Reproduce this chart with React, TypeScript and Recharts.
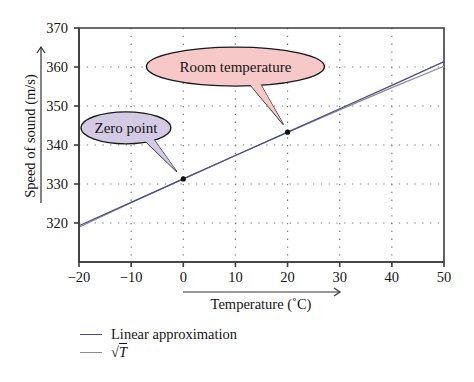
import {
  CartesianGrid,
  LineChart,
  Line,
  ReferenceArea,
  ReferenceDot,
  XAxis,
  YAxis,
} from "recharts";

const temps = [-20, -10, 0, 10, 20, 30, 40, 50];
const linearApprox = [319.3, 325.3, 331.3, 337.3, 343.3, 349.3, 355.3, 361.4];
const sqrtModel = [318.9, 325.2, 331.3, 337.3, 343.2, 349.0, 354.7, 360.2];

const xTicks = [-20, -10, 0, 10, 20, 30, 40, 50];
const yTicks = [320, 330, 340, 350, 360, 370];

const markedTemps = [0, 20];
const markedSpeeds = [331.3, 343.3];

const calloutLabels = ["Zero point", "Room temperature"];
const calloutTemps = [-11, 10];
const calloutSpeeds = [344.4, 360.1];

const SERIF = "'Liberation Serif', 'Times New Roman', serif";
const LINEAR_COLOR = "#4a4a8e";
const SQRT_COLOR = "#8e8e8e";
const AXIS_COLOR = "#3c3c3c";
const TEXT_COLOR = "#151515";

const data = temps.map((t, i) => ({
  t,
  linear: linearApprox[i],
  sqrt: sqrtModel[i],
}));

// callout look: ellipse radii, fill and tail (base1, base2, tip) offsets from centre
const calloutStyles = [
  { rx: 45, ry: 16, fill: "#d2cbe3", tail: [17, 11, 26, 9, 51, 44] },
  { rx: 89, ry: 19.5, fill: "#f6c9c8", tail: [12, 15, 23, 14, 48, 58] },
];

function Callout({ cx, cy, idx }: { cx?: number; cy?: number; idx: number }) {
  if (cx == null || cy == null) return null;
  const s = calloutStyles[idx];
  const [b1x, b1y, b2x, b2y, tx, ty] = s.tail;
  const pts = `${cx + b1x},${cy + b1y} ${cx + tx},${cy + ty} ${cx + b2x},${cy + b2y}`;
  return (
    <g>
      <polygon points={pts} fill={s.fill} stroke="#1a1a1a" strokeWidth={1.1} />
      <ellipse cx={cx} cy={cy} rx={s.rx} ry={s.ry} fill={s.fill} stroke="#1a1a1a" strokeWidth={1.4} />
      <polygon points={pts} fill={s.fill} stroke="none" />
      <text
        x={cx}
        y={cy + 5}
        textAnchor="middle"
        fontFamily={SERIF}
        fontSize={15}
        fill={TEXT_COLOR}
      >
        {calloutLabels[idx]}
      </text>
    </g>
  );
}

const fmt = (v: number) => (v < 0 ? `\u2212${Math.abs(v)}` : `${v}`);

function YLabel() {
  const ax = 41;
  return (
    <g>
      <line x1={ax} y1={203} x2={ax} y2={47} stroke="#333" strokeWidth={1.2} />
      <path d={`M${ax - 4},${53} L${ax},${47} L${ax + 4},${53}`} fill="none" stroke="#333" strokeWidth={1.2} />
      <text
        x={30}
        y={136}
        transform={`rotate(-90 30 136)`}
        textAnchor="middle"
        dominantBaseline="central"
        fontFamily={SERIF}
        fontSize={14.5}
        fill={TEXT_COLOR}
      >
        Speed of sound (m/s)
      </text>
    </g>
  );
}

function XLabel() {
  const ay = 292;
  return (
    <g>
      <line x1={183} y1={ay} x2={340} y2={ay} stroke="#333" strokeWidth={1.2} />
      <path d={`M${334},${ay - 4} L${340},${ay} L${334},${ay + 4}`} fill="none" stroke="#333" strokeWidth={1.2} />
      <text x={261} y={309} textAnchor="middle" fontFamily={SERIF} fontSize={14.5} fill={TEXT_COLOR}>
        Temperature (˚C)
      </text>
    </g>
  );
}

const legendItems = [
  { key: "linear", color: LINEAR_COLOR },
  { key: "sqrt", color: SQRT_COLOR },
];

export default function App() {
  return (
    <div
      style={{
        position: "absolute",
        left: 0,
        top: 0,
        width: 474,
        height: 382,
        background: "#fff",
        fontFamily: SERIF,
      }}
    >
      <LineChart
        width={474}
        height={382}
        data={data}
        margin={{ top: 28, right: 30, left: 19, bottom: 90 }}
      >
        <CartesianGrid
          stroke="#777"
          strokeDasharray="1.3 6.5"
          strokeWidth={1.2}
          horizontalValues={[320, 330, 340, 350, 360]}
          verticalValues={[-10, 0, 10, 20, 30, 40]}
        />
        <XAxis
          dataKey="t"
          type="number"
          domain={[-20, 50]}
          ticks={xTicks}
          tickFormatter={fmt}
          tickSize={5}
          tickMargin={5}
          stroke={AXIS_COLOR}
          strokeWidth={1.6}
          height={30}
          tick={{ fill: TEXT_COLOR, fontSize: 14.5, fontFamily: SERIF }}
          label={<XLabel />}
        />
        <YAxis
          type="number"
          domain={[310, 370]}
          ticks={yTicks}
          tickSize={5}
          tickMargin={6}
          width={60}
          stroke={AXIS_COLOR}
          strokeWidth={1.6}
          tick={{ fill: TEXT_COLOR, fontSize: 14.5, fontFamily: SERIF }}
          label={<YLabel />}
        />
        <ReferenceArea
          x1={-20}
          x2={50}
          y1={310}
          y2={370}
          fill="none"
          stroke={AXIS_COLOR}
          strokeWidth={1.6}
          fillOpacity={0}
        />
        <Line
          dataKey="sqrt"
          stroke={SQRT_COLOR}
          strokeWidth={1.3}
          dot={false}
          type="monotone"
          isAnimationActive={false}
        />
        <Line
          dataKey="linear"
          stroke={LINEAR_COLOR}
          strokeWidth={1.3}
          dot={false}
          type="linear"
          isAnimationActive={false}
        />
        {calloutLabels.map((label, i) => (
          <ReferenceDot
            key={label}
            x={calloutTemps[i]}
            y={calloutSpeeds[i]}
            r={0}
            shape={(p: any) => <Callout cx={p.cx} cy={p.cy} idx={i} />}
          />
        ))}
        {markedTemps.map((t, i) => (
          <ReferenceDot
            key={t}
            x={t}
            y={markedSpeeds[i]}
            r={2.6}
            fill="#111"
            stroke="none"
          />
        ))}
      </LineChart>
      <div style={{ position: "absolute", left: 80, top: 325, fontSize: 14.5, color: TEXT_COLOR, lineHeight: "18px" }}>
        {legendItems.map((it) => (
          <div key={it.key} style={{ display: "flex", alignItems: "center", height: 18 }}>
            <span style={{ display: "inline-block", width: 22, height: 0, borderTop: `1.3px solid ${it.color}`, marginRight: 9 }} />
            {it.key === "linear" ? (
              <span>Linear approximation</span>
            ) : (
              <span>
                √<span style={{ fontStyle: "italic", textDecoration: "overline" }}>T</span>
              </span>
            )}
          </div>
        ))}
      </div>
    </div>
  );
}
